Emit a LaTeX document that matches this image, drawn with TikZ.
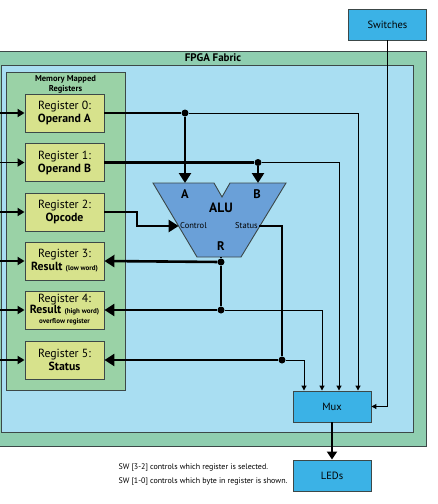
\documentclass[tikz,border=0pt]{standalone}
\usepackage{fontspec}
\setmainfont{PT Sans}
\usepackage{xcolor}
\usetikzlibrary{arrows.meta}

\definecolor{fabricgreen}{HTML}{8FCEB0}
\definecolor{fabricblue}{HTML}{A9DEF2}
\definecolor{memgreen}{HTML}{9AD2A6}
\definecolor{regfill}{HTML}{D7E28C}
\definecolor{alufill}{HTML}{6AA0D8}
\definecolor{iobox}{HTML}{3BB2E6}
\definecolor{edge}{HTML}{3C4848}

\tikzset{
  regbox/.style={draw=edge, line width=0.9pt, fill=regfill, minimum width=79pt, minimum height=38pt, align=center, inner sep=1pt, font=\fontsize{11.8}{13}\selectfont},
  iobox/.style={draw=edge, line width=0.9pt, fill=iobox, minimum width=78pt, minimum height=31pt, font=\fontsize{10.5}{12}\selectfont},
  bus/.style={line width=2.6pt},
  wire/.style={line width=1pt},
  bighead/.style={-{Triangle[length=10pt,width=12pt]}},
  smallhead/.style={-{Triangle[length=5pt,width=5pt]}},
  dot/.style={circle, fill=black, inner sep=0pt, minimum size=7pt}
}

\begin{document}
\begin{tikzpicture}[x=1pt, y=-1pt]
\clip (0,0) rectangle (438,504);
% fabric frames
\draw [draw=edge, line width=1pt, fill=fabricgreen] (-20,51) rectangle (426,446);
\draw [draw=edge, line width=1pt, fill=fabricblue] (1.5,65) rectangle (413,432);
\node (fab) at (213,58) {\fontsize{11}{12}\selectfont\bfseries FPGA Fabric};
\draw [draw=edge, line width=0.9pt, fill=memgreen] (6,72) rectangle (125,390);
\node[align=center, font=\fontsize{8.5}{10}\selectfont\bfseries] (mem) at (65.5,84) {Memory Mapped\\Registers};

% registers
\node[regbox] (r0) at (64.5,113) {Register 0:\\\textbf{Operand A}};
\node[regbox] (r1) at (64.5,162.5) {Register 1:\\\textbf{Operand B}};
\node[regbox] (r2) at (64.5,212) {Register 2:\\\textbf{Opcode}};
\node[regbox] (r3) at (64.5,261) {Register 3:\\\textbf{Result} {\fontsize{7}{8}\selectfont\bfseries (low word)}};
\node[regbox] (r4) at (64.5,310) {Register 4:\\[-2pt]\textbf{Result} {\fontsize{7}{8}\selectfont\bfseries (high word)}\\[-3pt]{\fontsize{7}{8}\selectfont\bfseries overflow register}};
\node[regbox] (r5) at (64.5,360) {Register 5:\\\textbf{Status}};

% bus inputs from the left
\foreach \r in {r0,r1,r2,r3,r4,r5}
  \draw [line width=1.8pt, -{Triangle[length=7pt,width=8pt]}] (\r.west -| 0,0) -- (\r.west);

% ALU
\draw [draw=edge, line width=0.9pt, fill=alufill] (153,183) -- (214,183) -- (222,197) -- (230,183) -- (286,183) -- (241,257) -- (197,257) -- cycle;
\coordinate (aluA) at (185,183);
\coordinate (aluB) at (258,183);
\coordinate (aluC) at (178.6,226);
\coordinate (aluS) at (259,226);
\coordinate (aluR) at (221,257);
\node (lA) at (185,194) {\fontsize{12.5}{14}\selectfont\bfseries A};
\node (lB) at (257,194) {\fontsize{12.5}{14}\selectfont\bfseries B};
\node (lALU) at (221,208) {\fontsize{13.5}{15}\selectfont\bfseries ALU};
\node[anchor=west, inner sep=0pt] (lC) at (180,226) {\fontsize{8.5}{10}\selectfont Control};
\node[anchor=east, inner sep=0pt] (lS) at (258,226) {\fontsize{8.5}{10}\selectfont Status};
\node (lR) at (221,246) {\fontsize{12.5}{14}\selectfont\bfseries R};

% mux, switches, leds
\node[iobox] (sw) at (387.5,24.5) {Switches};
\node[iobox] (mux) at (332,406.5) {Mux};
\node[iobox] (led) at (332,475.5) {LEDs};

% junctions
\node[dot] (j0) at (185,113) {};
\node[dot] (j1) at (258,162.5) {};
\node[dot] (j3) at (221,262) {};
\node[dot] (j4) at (221,310) {};
\node[dot] (j5) at (282,360) {};

% operand A
\draw [bus] (r0.east) -- (j0);
\draw [bus, bighead] (j0) -- (aluA);
\draw [wire, smallhead] (j0) -| (mux.north -| 358,0);
% operand B
\draw [bus] (r1.east) -- (j1);
\draw [bus, bighead] (j1) -- (aluB);
\draw [wire, smallhead] (j1) -| (mux.north -| 339,0);
% opcode
\draw [bus, bighead] (r2.east) -- (137,212) -- (137,226) -- (aluC);
% result
\draw [bus] (aluR) -- (j3) -- (j4);
\draw [bus, bighead] (j3) -- (r3.east);
\draw [bus, bighead] (j4) -- (r4.east);
\draw [wire, smallhead] (j4) -| (mux.north -| 322,0);
% status
\draw [line width=2pt] (aluS) -- (282,226) -- (j5);
\draw [bus, bighead] (j5) -- (r5.east);
\draw [wire, smallhead] (j5) -| (mux.north -| 304,0);
% switches and leds
\draw [wire, smallhead] (sw.south -| 387,0) |- (mux.east);
\draw [line width=1.8pt, -{Triangle[length=8pt,width=10pt]}] (mux) -- (led);

\node[anchor=west, align=left, font=\fontsize{8}{13.5}\selectfont] (note) at (115,474.5) {SW [3-2] controls which register is selected.\\SW [1-0] controls which byte in register is shown.};
\end{tikzpicture}
\end{document}
